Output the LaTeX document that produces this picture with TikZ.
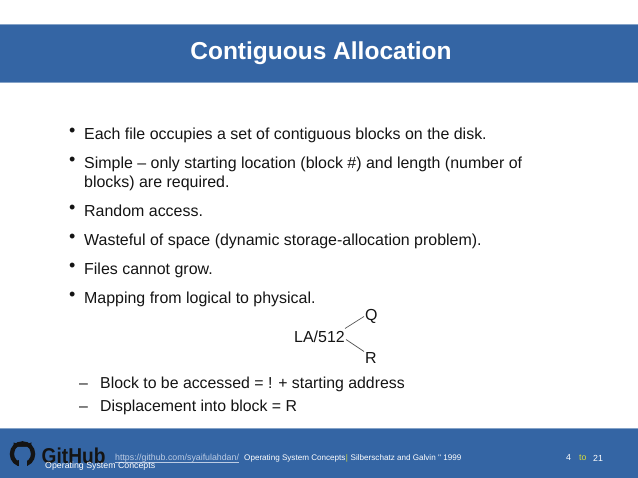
\documentclass[tikz,border=0pt]{standalone}
\usepackage{graphicx}
\usepackage{fontspec}
\setmainfont{Liberation Sans}
\definecolor{band}{HTML}{3465A4}
\definecolor{ink}{HTML}{141414}
\definecolor{linkc}{HTML}{BCCCE4}
\definecolor{toc}{HTML}{D8DC3C}
\tikzset{
  body/.style={anchor=base west,inner sep=0pt,font=\fontsize{15.95}{20}\selectfont,text=ink},
  subitem/.style={body,font=\fontsize{15.85}{20}\selectfont},
  bul/.style={anchor=base west,inner sep=0pt,font=\fontsize{18}{18}\selectfont,text=ink},
  foot/.style={anchor=base west,inner sep=0pt,font=\fontsize{8.1}{10}\selectfont,text=white},
  footb/.style={foot,font=\fontsize{8.8}{10}\selectfont},
  banner/.style={fill=band,draw=band!60!white,line width=.5pt},
  lnk/.style={draw=ink!70,line width=.7pt}
}
\begin{document}
\begin{tikzpicture}[x=1pt,y=-1pt]
\useasboundingbox (0,0) rectangle (638,478);
\fill[white] (0,0) rectangle (638,478);
\path[banner] (-1,24) rectangle (638,82);
\path[banner] (-1,428) rectangle (638,479);
\node[anchor=base,inner sep=0pt,text=white,font=\bfseries\fontsize{24.5}{28}\selectfont] (title) at (321,59.5) {Contiguous Allocation};
\foreach \n/\y in {a/137,b/166,c/214,d/243,e/272,f/301}
  \node[bul] (bul\n) at (68.8,\y) {•};
\node[body] (t1) at (84,140) {Each file occupies a set of contiguous blocks on the disk.};
\node[body] (t2) at (84,169) {Simple – only starting location (block \#) and length (number of};
\node[body] (t2b) at (84,188) {blocks) are required.};
\node[body] (t3) at (84,217) {Random access.};
\node[body] (t4) at (84,246) {Wasteful of space (dynamic storage-allocation problem).};
\node[body] (t5) at (84,275) {Files cannot grow.};
\node[body] (t6) at (84,304) {Mapping from logical to physical.};
\node[body] (la) at (294,343) {LA/512};
\node[body] (q) at (365,321) {Q};
\node[body] (r) at (365,364) {R};
\coordinate (lq) at (345,328.5);
\coordinate (qq) at (364,316.5);
\coordinate (lr) at (346,339.5);
\coordinate (rr) at (364,351.5);
\draw[lnk] (lq) -- (qq);
\draw[lnk] (lr) -- (rr);
\node[subitem] (d1) at (79,389) {–};
\node[subitem] (s1) at (100,389) {Block to be accessed = ! + starting address};
\node[subitem] (d2) at (79,412) {–};
\node[subitem] (s2) at (100,412) {Displacement into block = R};
% footer: logo ring with ears and an open tail
\fill[ink,even odd rule] (22.5,454) circle (12.8) (22.5,454) circle (8.4);
\fill[ink] (14,448) -- (13.5,442.5) -- (18.5,444) -- (26.5,444) -- (31.5,442.5) -- (31,448) -- cycle;
\fill[band] (15.5,449) -- (18,446.8) -- (27,446.8) -- (29.5,449) -- (30,455) -- (15,455) -- cycle;
\fill[band] (18.5,460) rectangle (26.5,468);
\fill[ink] (18.8,460) -- (18.8,466) -- (14,463) -- cycle;
\node[anchor=base west,inner sep=0pt,text=ink,font=\bfseries\fontsize{21.5}{26}\selectfont] (gh) at (41.5,463.5) {\scalebox{.89}[1]{GitHub}};
\node[footb,text=linkc] (url) at (115,460.5) {https://github.com/syaifulahdan/};
\draw[linkc,line width=.4pt] ([yshift=-1.6pt]url.base west) -- ([yshift=-1.6pt]url.base east);
\node[foot] (ft) at (244,460.5) {Operating System Concepts};
\node[foot,text=toc] (sep) at (345.6,460.5) {|};
\node[foot] (ft2) at (350.5,460.5) {Silberschatz and Galvin \textquotesingle\textquotesingle\ 1999};
\node[footb] (o) at (45,468.5) {Operating System Concepts};
\node[footb] (p4) at (566,460.5) {4};
\node[footb,text=toc] (to) at (579,460.5) {to};
\node[footb] (p21) at (593,461.5) {21};
\end{tikzpicture}
\end{document}
